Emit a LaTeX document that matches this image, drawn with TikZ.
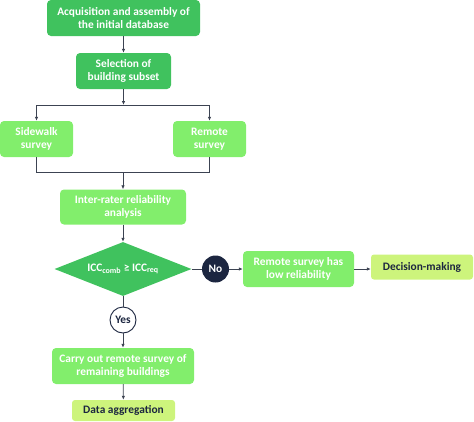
\documentclass[tikz,border=0pt]{standalone}
\usepackage{fontspec}
\setmainfont{Carlito}
\usetikzlibrary{shapes.geometric,arrows.meta}
\definecolor{dkgreen}{HTML}{40C25E}
\definecolor{ltgreen}{HTML}{82EE6C}
\definecolor{ylgreen}{HTML}{CDF47C}
\definecolor{navy}{HTML}{1C2640}
\definecolor{linec}{HTML}{3C4352}
\newcommand{\bxfont}{\bfseries\fontsize{11.4}{13.5}\selectfont}
\tikzset{
  box/.style={rounded corners=4pt, inner sep=0pt, align=center, font=\bxfont, text=white},
  dbox/.style={box, fill=dkgreen},
  lbox/.style={box, fill=ltgreen},
  ybox/.style={box, fill=ylgreen, text=navy, rounded corners=3pt},
  conn/.style={draw=linec, line width=0.8pt},
  arr/.style={conn, -{Latex[length=4pt,width=3.5pt]}},
}
\begin{document}
\begin{tikzpicture}[x=1pt,y=-1pt]
\useasboundingbox (0,0) rectangle (474,421);
\node[dbox, minimum width=153pt, minimum height=36pt] (b1) at (123.5,18) {Acquisition and assembly of\\the initial database};
\node[dbox, minimum width=95pt, minimum height=36pt] (b2) at (123.5,71) {Selection of\\building subset};
\node[lbox, minimum width=73pt, minimum height=36pt] (side) at (36.5,139) {Sidewalk\\survey};
\node[lbox, minimum width=73pt, minimum height=36pt] (remote) at (209.5,139) {Remote\\survey};
\node[lbox, minimum width=126pt, minimum height=35pt] (irr) at (123,207) {Inter-rater reliability\\analysis};
\node[diamond, fill=dkgreen, aspect=2.54, minimum width=137pt, minimum height=54pt, inner sep=0pt, text=white, font=\bxfont] (dia) at (123,269) {ICC\textsubscript{comb} ≥ ICC\textsubscript{req}};
\node[circle, fill=navy, minimum size=27pt, inner sep=0pt, text=white, font=\bxfont] (no) at (215.5,269) {No};
\node[lbox, minimum width=111pt, minimum height=36pt] (low) at (298.5,269) {Remote survey has\\low reliability};
\node[ybox, minimum width=102pt, minimum height=25pt] (dec) at (422,267) {Decision-making};
\node[circle, fill=white, draw=navy, line width=0.9pt, minimum size=26pt, inner sep=0pt, text=navy, font=\bxfont] (yes) at (123,320) {Yes};
\node[lbox, minimum width=142pt, minimum height=36pt] (carry) at (123,366) {Carry out remote survey of\\remaining buildings};
\node[ybox, minimum width=103pt, minimum height=21pt] (data) at (123.5,410.5) {Data aggregation};
\coordinate (split) at (123.5,105);
\coordinate (merge) at (123,172);
\draw[arr] (b1) -- (b2);
\draw[arr] (b2) -- (split);
\draw[arr] (split) -| (side.north);
\draw[arr] (split) -| (remote.north);
\draw[conn] (side.south) |- (merge);
\draw[conn] (remote.south) |- (merge);
\draw[arr] (merge) -- (irr.north);
\draw[arr] (irr) -- (dia);
\draw[conn] (dia.east) -- (no);
\draw[arr] (no) -- (low);
\draw[arr] (low) -- (dec.west |- low);
\draw[conn] (dia.south) -- (yes);
\draw[arr] (yes) -- (carry);
\draw[arr] (carry) -- (data);
\end{tikzpicture}
\end{document}
